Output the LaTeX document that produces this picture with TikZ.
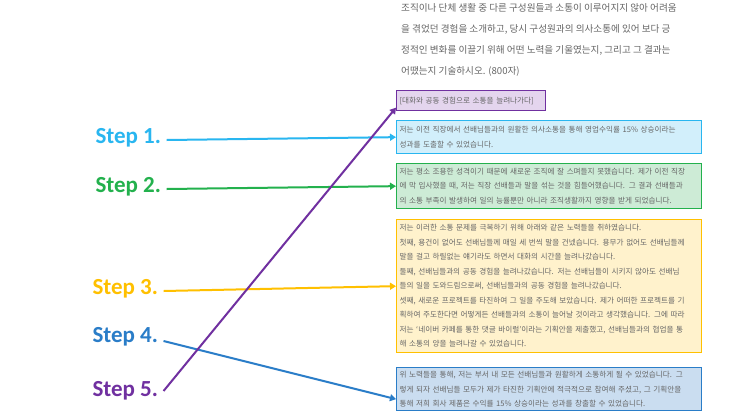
\documentclass[tikz,border=0pt]{standalone}
\usepackage{fontspec}
\newfontfamily\kr{Noto Sans CJK KR}
\newfontfamily\stepf{Carlito}
\usetikzlibrary{arrows.meta}
\definecolor{cP}{HTML}{7030A0}\definecolor{fP}{HTML}{E4D5EE}
\definecolor{cC}{HTML}{29B6F0}\definecolor{fC}{HTML}{D2EFFB}
\definecolor{cG}{HTML}{23B14D}\definecolor{fG}{HTML}{CDEBD6}
\definecolor{cY}{HTML}{FFC000}\definecolor{fY}{HTML}{FFF2CC}
\definecolor{cB}{HTML}{2A7DC8}\definecolor{fB}{HTML}{CADDF0}
\definecolor{tx}{HTML}{666666}
\tikzset{
 box/.style={draw=#1,line width=1.3pt,anchor=north west,inner sep=3pt,align=left,
   font=\kr\fontsize{7.6}{14.5}\selectfont,text=tx},
 steplab/.style={font=\stepf\bfseries\fontsize{23}{24}\selectfont,text=#1,anchor=west},
 arr/.style={draw=#1,line width=2pt,-{Triangle[length=6pt,width=7pt]}}
}
\begin{document}
\begin{tikzpicture}[x=1pt,y=-1pt]
\useasboundingbox[fill=white] (0,0) rectangle (743,418);
\node[anchor=north west,align=left,text=tx,font=\kr\fontsize{9.6}{21}\selectfont,inner sep=0] (q) at (401,3)
{조직이나 단체 생활 중 다른 구성원들과 소통이 이루어지지 않아 어려움\\을 겪었던 경험을 소개하고, 당시 구성원과의 의사소통에 있어 보다 긍\\정적인 변화를 이끌기 위해 어떤 노력을 기울였는지, 그리고 그 결과는\\어땠는지 기술하시오. (800자)};
\node[box=cP,fill=fP,text width=143pt,minimum height=20pt] (p) at (396,90) {[대화와 공동 경험으로 소통을 늘려나가다]};
\node[box=cC,fill=fC,text width=299pt,minimum height=33pt] (c) at (396,120) {저는 이전 직장에서 선배님들과의 원활한 의사소통을 통해 영업수익률 15\% 상승이라는\\성과를 도출할 수 있었습니다.};
\node[box=cG,fill=fG,text width=299pt,minimum height=45pt] (g) at (396,163) {저는 평소 조용한 성격이기 때문에 새로운 조직에 잘 스며들지 못했습니다. 제가 이전 직장\\에 막 입사했을 때, 저는 직장 선배들과 말을 섞는 것을 힘들어했습니다. 그 결과 선배들과\\의 소통 부족이 발생하여 일의 능률뿐만 아니라 조직생활까지 영향을 받게 되었습니다.};
\node[box=cY,fill=fY,text width=299pt,minimum height=133pt] (y) at (396,219) {저는 이러한 소통 문제를 극복하기 위해 아래와 같은 노력들을 취하였습니다.\\첫째, 용건이 없어도 선배님들께 매일 세 번씩 말을 건넸습니다. 용무가 없어도 선배님들께\\말을 걸고 하릴없는 얘기라도 하면서 대화의 시간을 늘려나갔습니다.\\둘째, 선배님들과의 공동 경험을 늘려나갔습니다. 저는 선배님들이 시키지 않아도 선배님\\들의 일을 도와드림으로써, 선배님들과의 공동 경험을 늘려나갔습니다.\\셋째, 새로운 프로젝트를 타진하여 그 일을 주도해 보았습니다. 제가 어떠한 프로젝트를 기\\획하여 주도한다면 어떻게든 선배들과의 소통이 늘어날 것이라고 생각했습니다. 그에 따라\\저는 ‘네이버 카페를 통한 댓글 바이럴’이라는 기획안을 제출했고, 선배님들과의 협업을 통\\해 소통의 양을 늘려나갈 수 있었습니다.};
\node[box=cB,fill=fB,text width=299pt,minimum height=43pt] (b) at (396,367) {위 노력들을 통해, 저는 부서 내 모든 선배님들과 원활하게 소통하게 될 수 있었습니다. 그\\렇게 되자 선배님들 모두가 제가 타진한 기획안에 적극적으로 참여해 주셨고, 그 기획안을\\통해 저희 회사 제품은 수익률 15\% 상승이라는 성과를 창출할 수 있었습니다.};
\node[steplab=cC] (s1) at (92,138) {Step 1.};
\node[steplab=cG] (s2) at (92,187) {Step 2.};
\node[steplab=cY] (s3) at (89,289) {Step 3.};
\node[steplab=cB] (s4) at (89,337) {Step 4.};
\node[steplab=cP] (s5) at (89,391) {Step 5.};
\draw[arr=cC] ([xshift=2pt,yshift=-2pt]s1.east) -- (c.west);
\draw[arr=cG] ([xshift=2pt,yshift=-2pt]s2.east) -- (g.west);
\draw[arr=cY] ([xshift=2pt,yshift=-2pt]s3.east) -- (y.west);
\draw[arr=cB] ([xshift=2pt,yshift=-4pt]s4.east) -- ([yshift=-10pt]b.west);
\draw[arr=cP] ([xshift=2pt]s5.east) -- ([yshift=-7pt]p.west);
\end{tikzpicture}
\end{document}
